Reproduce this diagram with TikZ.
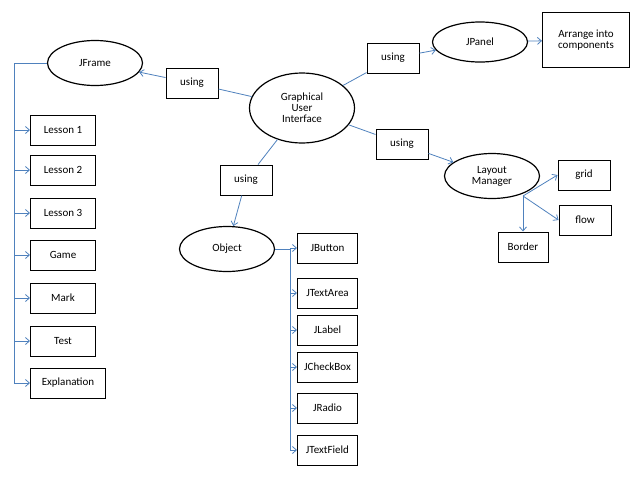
\documentclass[tikz,border=0pt]{standalone}
\usepackage{fontspec}
\setmainfont{Carlito}
\usetikzlibrary{shapes.geometric,arrows.meta}
\definecolor{conn}{RGB}{79,129,189}
\begin{document}
\begin{tikzpicture}[x=1pt,y=-1pt,
  every node/.style={font=\fontsize{11}{13}\selectfont, align=center},
  ell/.style={ellipse,draw,line width=1.2pt,minimum width=#1,inner sep=0pt},
  bx/.style={rectangle,draw,line width=1pt,minimum height=30,inner sep=1pt},
  cn/.style={draw=conn,line width=0.8pt},
  ar/.style={cn,-{Straight Barb[length=4pt,width=7pt]}}]
\useasboundingbox (0,0) rectangle (640,480);
\node[ell=105,minimum height=70] (gui) at (302,108) {Graphical\\[-2pt]User\\[-2pt]Interface};
\node[ell=95,minimum height=45] (jframe) at (95,63) {JFrame};
\node[ell=95,minimum height=45] (obj) at (227,249) {Object};
\node[ell=95,minimum height=40] (jpanel) at (480,42) {JPanel};
\node[ell=95,minimum height=45] (lm) at (492,176) {Layout\\[-2pt]Manager};
\node[bx,minimum width=52] (u1) at (192,83) {using};
\node[bx,minimum width=52] (u2) at (246,180) {using};
\node[bx,minimum width=52] (u3) at (393,58) {using};
\node[bx,minimum width=52] (u4) at (402,144) {using};
\node[bx,minimum width=87,minimum height=55] (arr) at (586,40) {Arrange into\\[-2pt]components};
\node[bx,minimum width=52] (grid) at (584,175) {grid};
\node[bx,minimum width=52] (flow) at (585,220) {flow};
\node[bx,minimum width=50] (border) at (523,247) {Border};
\foreach \n/\t/\y/\w in {l1/Lesson 1/130/65, l2/Lesson 2/170/65, l3/Lesson 3/213/65, game/Game/255/65, mark/Mark/298/65, test/Test/341/65, expl/Explanation/383/75}
  \node[bx,minimum width=\w,anchor=west] (\n) at (30,\y) {\t};
\foreach \n/\t/\y in {jb/JButton/248, jta/JTextArea/293, jl/JLabel/330, jcb/JCheckBox/367, jr/JRadio/408, jtf/JTextField/450}
  \node[bx,minimum width=60,anchor=west] (\n) at (297,\y) {\t};
% GUI connectors
\draw[cn] (gui) -- (u1); \draw[ar] (u1) -- (jframe);
\draw[cn] (gui) -- (u2); \draw[ar] (u2) -- (obj);
\draw[cn] (gui) -- (u3); \draw[ar] (u3) -- (jpanel);
\draw[cn] (gui) -- (u4); \draw[ar] (u4) -- (lm);
\draw[ar] (jpanel) -- (arr);
\coordinate (lmb) at (523,196);
\draw[ar] (lmb) -- (grid.west);
\draw[ar] (lmb) -- (flow.west);
\draw[ar] (lmb) -- (border.north);
% JFrame list
\coordinate (lt) at (14,63);
\coordinate (lb) at (14,383);
\draw[cn] (jframe.west) -- (lt) -- (lb);
\foreach \n in {l1,l2,l3,game,mark,test,expl}
  \draw[ar] (lt |- \n.west) -- (\n.west);
% Object list
\coordinate (ot) at (290,249);
\coordinate (ob) at (290,450);
\draw[cn] (obj.east) -- (ot) -- (ob);
\foreach \n in {jb,jta,jl,jcb,jr,jtf}
  \draw[ar] (ot |- \n.west) -- (\n.west);
\end{tikzpicture}
\end{document}
